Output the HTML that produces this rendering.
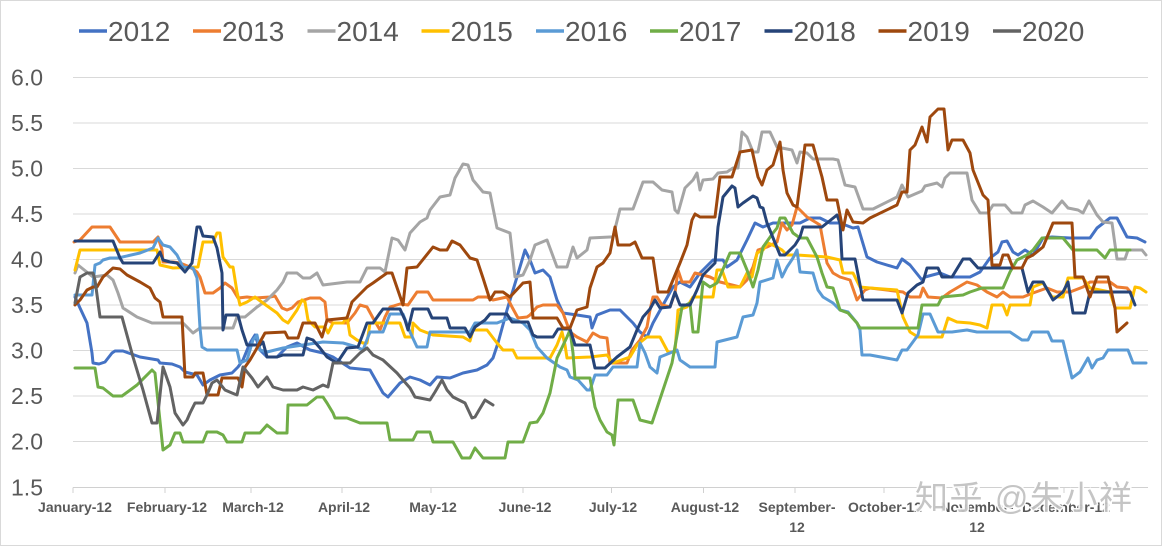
<!DOCTYPE html>
<html><head><meta charset="utf-8"><style>
html,body{margin:0;padding:0;background:#fff;}
svg{display:block;}
.yl{font-family:"Liberation Sans",sans-serif;font-size:23px;fill:#595959;text-anchor:end;}
.xl{font-family:"Liberation Sans",sans-serif;font-size:14px;font-weight:bold;fill:#595959;text-anchor:middle;}
.lg{font-family:"Liberation Sans",sans-serif;font-size:28px;fill:#595959;}
.s{fill:none;stroke-width:3;stroke-linejoin:round;stroke-linecap:round;}
</style></head><body>
<svg width="1162" height="546" viewBox="0 0 1162 546" xmlns="http://www.w3.org/2000/svg">
<rect x="0" y="0" width="1162" height="546" fill="#fff"/>
<rect x="0.5" y="0.5" width="1161" height="545" fill="none" stroke="#D9D9D9" stroke-width="1"/>
<g stroke="#D9D9D9" stroke-width="1">
<line x1="73" y1="77.5" x2="1148" y2="77.5"/>
<line x1="73" y1="123" x2="1148" y2="123"/>
<line x1="73" y1="168.5" x2="1148" y2="168.5"/>
<line x1="73" y1="214" x2="1148" y2="214"/>
<line x1="73" y1="259.5" x2="1148" y2="259.5"/>
<line x1="73" y1="305" x2="1148" y2="305"/>
<line x1="73" y1="350.5" x2="1148" y2="350.5"/>
<line x1="73" y1="396" x2="1148" y2="396"/>
<line x1="73" y1="441.5" x2="1148" y2="441.5"/>
</g>
<g stroke="#D0D0D0" stroke-width="1">
<line x1="73" y1="487.5" x2="1148" y2="487.5"/>
<line x1="73" y1="487.5" x2="73" y2="493"/>
<line x1="165" y1="487.5" x2="165" y2="493"/>
<line x1="251" y1="487.5" x2="251" y2="493"/>
<line x1="342" y1="487.5" x2="342" y2="493"/>
<line x1="431" y1="487.5" x2="431" y2="493"/>
<line x1="523" y1="487.5" x2="523" y2="493"/>
<line x1="611.5" y1="487.5" x2="611.5" y2="493"/>
<line x1="703.5" y1="487.5" x2="703.5" y2="493"/>
<line x1="795" y1="487.5" x2="795" y2="493"/>
<line x1="884" y1="487.5" x2="884" y2="493"/>
<line x1="975" y1="487.5" x2="975" y2="493"/>
<line x1="1064" y1="487.5" x2="1064" y2="493"/>
</g>
<text class="yl" x="43" y="85.5">6.0</text>
<text class="yl" x="43" y="131">5.5</text>
<text class="yl" x="43" y="176.5">5.0</text>
<text class="yl" x="43" y="222">4.5</text>
<text class="yl" x="43" y="267.5">4.0</text>
<text class="yl" x="43" y="313">3.5</text>
<text class="yl" x="43" y="358.5">3.0</text>
<text class="yl" x="43" y="404">2.5</text>
<text class="yl" x="43" y="449.5">2.0</text>
<text class="yl" x="43" y="495.5">1.5</text>
<text class="xl" x="75" y="512">January-12</text>
<text class="xl" x="167" y="512">February-12</text>
<text class="xl" x="253" y="512">March-12</text>
<text class="xl" x="344" y="512">April-12</text>
<text class="xl" x="433" y="512">May-12</text>
<text class="xl" x="525" y="512">June-12</text>
<text class="xl" x="613" y="512">July-12</text>
<text class="xl" x="705" y="512">August-12</text>
<text class="xl" x="797" y="512">September-</text>
<text class="xl" x="797" y="532">12</text>
<text class="xl" x="885" y="512">October-12</text>
<text class="xl" x="977" y="512">November-</text>
<text class="xl" x="977" y="532">12</text>
<text class="xl" x="1066" y="512">December-12</text>

<polyline class="s" stroke="#4472C4" points="75,297 80,308 87,323 92,353 93,363 99,364 105,362 112,353 115,351 123,351 140,357 158,360 160,363 172,364 180,367 185,372 197,375 203,385 210,380 220,375 232,373 238,367 243,360 250,343 255,335 260,350 267,357 277,357 287,347 297,343 310,350 323,353 333,357 350,368 370,370 383,393 388,397 400,383 410,377 420,380 430,385 437,377 450,378 463,373 477,370 487,365 493,358 498,343 507,310 517,277 525,250 530,260 535,273 543,270 550,277 557,300 563,313 577,315 590,317 592,328 597,315 610,310 620,310 633,323 640,332 647,337 653,323 663,305 673,287 680,282 690,287 700,273 713,260 723,260 727,267 737,260 747,240 755,223 763,227 773,223 787,223 800,223 810,218 820,218 830,223 840,223 853,228 858,227 867,257 877,262 897,268 902,259 910,265 922,280 925,277 940,273 950,277 970,277 980,272 990,258 998,252 1002,242 1007,241 1013,252 1018,255 1025,250 1033,255 1043,238 1052,237 1070,238 1090,238 1097,228 1110,218 1117,218 1127,237 1137,238 1145,242"/>
<polyline class="s" stroke="#ED7D31" points="74,242 80,240 92,227 110,227 120,242 153,242 158,237 162,250 163,262 173,262 180,263 190,267 197,272 200,277 205,293 213,293 220,288 225,283 232,288 238,298 247,297 255,298 270,297 275,296 282,308 287,310 292,308 298,302 310,298 320,298 325,302 327,320 333,323 347,323 355,313 360,305 367,307 373,318 380,330 385,317 390,307 400,304 408,305 417,292 428,292 433,300 473,300 478,297 487,297 493,300 507,297 512,307 518,318 527,317 530,315 537,307 543,305 557,305 563,313 570,332 577,337 587,342 593,333 600,337 607,338 610,363 627,363 632,350 640,340 647,327 650,310 653,297 657,297 662,305 670,307 675,293 678,270 682,282 690,282 695,273 703,275 710,277 720,282 732,285 740,287 747,280 753,267 758,250 767,247 777,242 782,223 787,230 792,225 797,207 807,217 820,225 827,263 833,273 840,277 850,280 857,300 865,290 870,288 903,292 910,297 920,297 923,288 928,297 942,298 950,292 967,282 977,285 987,292 997,297 1003,292 1010,297 1023,297 1033,293 1047,288 1057,292 1070,292 1083,287 1090,282 1110,282 1117,287 1127,288 1133,295"/>
<polyline class="s" stroke="#A5A5A5" points="75,273 78,265 93,277 107,275 113,280 118,293 123,308 137,317 152,323 183,323 193,333 200,328 233,328 237,317 245,317 257,307 267,300 277,290 283,282 287,273 297,273 303,278 310,278 317,273 323,285 347,282 360,282 367,268 380,268 385,272 392,238 398,240 405,250 410,233 420,222 427,218 430,210 440,197 450,195 455,178 463,164 468,165 473,180 483,192 490,193 497,228 510,233 515,277 523,275 530,260 535,245 547,240 557,267 567,267 573,247 577,258 587,250 590,238 610,237 613,237 620,209 633,209 643,182 653,182 662,190 672,192 675,210 678,213 685,188 693,180 697,173 700,190 703,180 713,179 718,173 727,172 733,168 738,168 742,132 747,137 753,152 758,152 762,132 770,132 777,147 792,150 797,163 800,152 807,153 813,159 833,159 838,160 845,185 855,187 863,209 873,209 897,197 902,185 908,197 922,191 925,186 937,183 942,187 945,178 950,173 967,173 972,200 980,213 988,213 993,205 1005,205 1012,213 1022,213 1025,205 1033,201 1043,207 1052,213 1062,201 1068,208 1078,210 1083,213 1089,201 1097,215 1103,222 1112,223 1117,259 1125,259 1128,250 1142,250 1146,255"/>
<polyline class="s" stroke="#FFC000" points="75,270 80,250 157,250 160,265 173,268 198,267 203,242 213,242 217,233 220,233 223,257 230,267 233,267 237,292 240,305 247,302 255,297 263,303 270,308 277,313 283,320 288,323 297,310 302,300 305,302 308,320 315,327 320,327 325,327 328,333 333,323 343,323 347,317 350,335 357,340 363,343 367,343 370,323 400,323 405,337 412,337 413,323 420,330 433,335 463,337 470,341 473,330 487,330 497,343 503,350 513,350 517,358 550,358 557,345 562,332 565,345 567,358 590,357 607,355 613,363 630,357 637,345 647,337 660,337 668,352 675,352 678,310 687,307 693,297 713,297 717,270 722,270 728,287 740,287 747,273 752,277 757,253 763,250 768,243 777,247 782,250 787,255 797,255 827,257 840,260 843,273 853,273 860,287 870,288 897,290 903,317 910,332 918,337 942,337 948,318 957,322 970,323 980,325 987,328 992,305 1003,305 1007,315 1010,305 1030,305 1033,287 1043,283 1052,297 1063,297 1068,278 1083,278 1090,288 1110,292 1115,308 1130,308 1135,287 1140,288 1146,292"/>
<polyline class="s" stroke="#5B9BD5" points="75,295 92,295 95,265 100,263 103,260 110,258 118,258 140,253 153,248 158,238 163,245 170,247 177,255 183,267 193,268 197,278 200,328 202,347 207,350 237,350 240,363 247,360 253,340 257,335 260,350 267,352 283,348 303,345 323,342 343,343 357,347 363,350 370,332 383,332 390,314 403,314 410,332 417,347 427,347 430,332 470,332 475,323 497,323 510,318 523,323 530,330 537,347 547,358 560,367 567,370 570,377 578,380 587,390 590,390 595,375 607,375 613,367 637,367 640,343 645,353 650,367 657,373 660,357 670,353 677,350 680,360 690,367 715,367 717,342 737,337 743,317 753,315 757,303 760,282 773,278 777,260 782,277 787,267 793,258 797,250 800,272 813,273 818,290 823,297 833,303 840,310 848,312 857,323 860,330 862,355 870,355 897,360 902,350 907,350 918,335 923,314 930,314 938,332 952,332 967,330 977,332 1010,332 1022,340 1028,340 1032,332 1048,332 1052,341 1063,341 1072,378 1080,372 1088,358 1092,368 1097,360 1103,358 1108,350 1128,350 1133,363 1146,363"/>
<polyline class="s" stroke="#70AD47" points="75,368 95,368 98,387 103,388 113,396 122,396 137,385 152,370 155,373 163,450 170,445 175,433 180,433 183,442 203,442 207,432 217,432 223,435 227,442 242,442 245,433 260,433 267,425 277,433 287,433 288,405 307,405 317,397 323,397 327,403 333,413 335,418 347,418 360,423 387,423 390,440 413,440 417,432 430,432 433,442 453,442 462,458 470,458 475,448 483,458 505,458 508,442 523,442 530,423 537,422 543,413 550,393 557,358 567,337 570,330 573,353 575,378 590,378 595,407 600,420 607,432 612,435 614,445 618,400 633,400 640,420 652,423 662,393 672,363 678,330 682,307 690,303 693,332 698,332 703,282 710,287 717,283 727,260 730,253 740,253 747,270 753,287 758,270 763,247 773,233 777,228 780,218 785,218 793,233 800,238 807,238 817,257 822,273 827,287 833,288 840,310 848,313 857,323 860,328 918,328 922,305 938,305 942,297 963,295 970,292 982,288 1003,288 1010,272 1017,260 1027,255 1033,250 1042,238 1063,238 1073,250 1097,250 1105,258 1110,250 1130,250"/>
<polyline class="s" stroke="#264478" points="75,241 113,241 120,258 123,263 153,263 160,252 163,260 170,262 177,263 185,272 192,263 197,227 200,227 203,236 213,237 217,248 222,273 223,330 226,315 238,315 242,330 247,345 260,345 263,342 267,357 277,357 283,355 303,355 307,338 313,340 320,348 327,357 337,363 347,348 358,347 367,323 373,323 380,313 383,309 400,309 405,320 408,330 413,309 428,309 432,318 447,318 450,328 465,328 470,337 475,327 485,320 490,314 507,314 512,322 528,322 533,335 537,337 553,337 558,329 570,329 575,345 590,345 595,368 605,368 617,357 630,347 637,330 643,317 650,309 655,300 660,308 670,307 675,292 680,305 690,305 697,290 703,275 715,263 718,227 723,197 732,186 735,188 738,207 743,203 753,196 757,198 760,207 763,208 767,223 780,255 785,255 795,245 800,237 803,227 822,227 827,223 837,215 840,223 842,259 855,259 863,300 897,300 902,313 908,293 917,285 923,282 927,268 938,268 942,277 952,277 963,259 970,259 978,268 1022,268 1028,292 1033,282 1043,282 1053,300 1063,292 1068,282 1073,313 1085,313 1090,292 1130,292 1135,305"/>
<polyline class="s" stroke="#9E480E" points="75,305 80,300 87,290 93,287 97,287 103,277 113,268 120,269 127,275 140,282 150,288 155,298 160,302 163,317 182,317 185,377 193,377 195,373 203,373 207,395 218,395 222,378 238,378 242,387 245,367 250,360 257,348 260,342 265,333 285,332 288,338 298,338 303,323 315,323 322,337 327,320 347,318 352,302 362,292 367,287 373,283 380,278 387,273 392,273 403,305 407,268 417,267 433,247 440,250 447,250 452,241 460,245 470,258 477,260 483,278 490,300 495,292 503,292 510,297 523,283 530,282 533,318 557,318 563,328 570,328 577,310 587,307 590,288 597,267 603,263 610,253 615,227 618,245 630,245 635,242 642,258 653,258 658,292 668,292 680,263 687,245 692,220 695,214 700,217 715,217 720,177 732,177 740,152 752,150 758,177 762,185 767,170 773,165 780,142 783,170 787,193 793,205 797,207 802,170 805,145 813,145 822,177 827,200 837,200 843,230 847,210 853,222 863,223 870,218 897,205 902,192 907,192 910,150 915,145 922,127 927,142 930,117 938,109 944,109 948,150 952,140 963,140 970,153 973,170 983,195 988,200 992,265 1000,265 1003,255 1008,255 1013,268 1022,268 1027,258 1033,255 1043,247 1053,223 1072,223 1075,277 1083,277 1090,297 1097,277 1108,277 1115,308 1117,332 1127,323"/>
<polyline class="s" stroke="#636363" points="75,303 80,277 87,273 93,273 95,280 100,317 122,317 133,357 143,390 152,423 157,423 163,367 170,387 175,413 183,425 187,420 190,413 195,403 203,403 207,395 212,383 217,380 225,390 232,393 237,395 243,367 252,378 258,387 267,377 273,387 283,390 297,390 303,387 313,390 323,385 328,387 333,363 350,363 360,353 367,348 373,355 383,360 397,373 403,380 410,388 415,397 430,400 435,392 442,380 447,390 453,397 465,403 472,418 475,417 485,400 493,405"/>

<g stroke-width="3.5" stroke-linecap="butt">
<line x1="79" y1="31" x2="107" y2="31" stroke="#4472C4"/>
<line x1="193" y1="31" x2="221" y2="31" stroke="#ED7D31"/>
<line x1="307.5" y1="31" x2="335.5" y2="31" stroke="#A5A5A5"/>
<line x1="421.5" y1="31" x2="449.5" y2="31" stroke="#FFC000"/>
<line x1="536" y1="31" x2="564" y2="31" stroke="#5B9BD5"/>
<line x1="650" y1="31" x2="678" y2="31" stroke="#70AD47"/>
<line x1="764.5" y1="31" x2="792.5" y2="31" stroke="#264478"/>
<line x1="878.5" y1="31" x2="906.5" y2="31" stroke="#9E480E"/>
<line x1="993" y1="31" x2="1021" y2="31" stroke="#636363"/>
</g>
<text class="lg" x="108" y="41">2012</text>
<text class="lg" x="222" y="41">2013</text>
<text class="lg" x="336.5" y="41">2014</text>
<text class="lg" x="450.5" y="41">2015</text>
<text class="lg" x="565" y="41">2016</text>
<text class="lg" x="679" y="41">2017</text>
<text class="lg" x="793.5" y="41">2018</text>
<text class="lg" x="907.5" y="41">2019</text>
<text class="lg" x="1022" y="41">2020</text>

<text x="915" y="509" textLength="217" lengthAdjust="spacing" style="font-family:'Liberation Sans','Noto Sans CJK SC',sans-serif;font-size:33px;" fill="#C2C2C2" stroke="#FFFFFF" stroke-width="3" paint-order="stroke" opacity="0.95">知乎 @朱小祥</text>
</svg>
</body></html>
